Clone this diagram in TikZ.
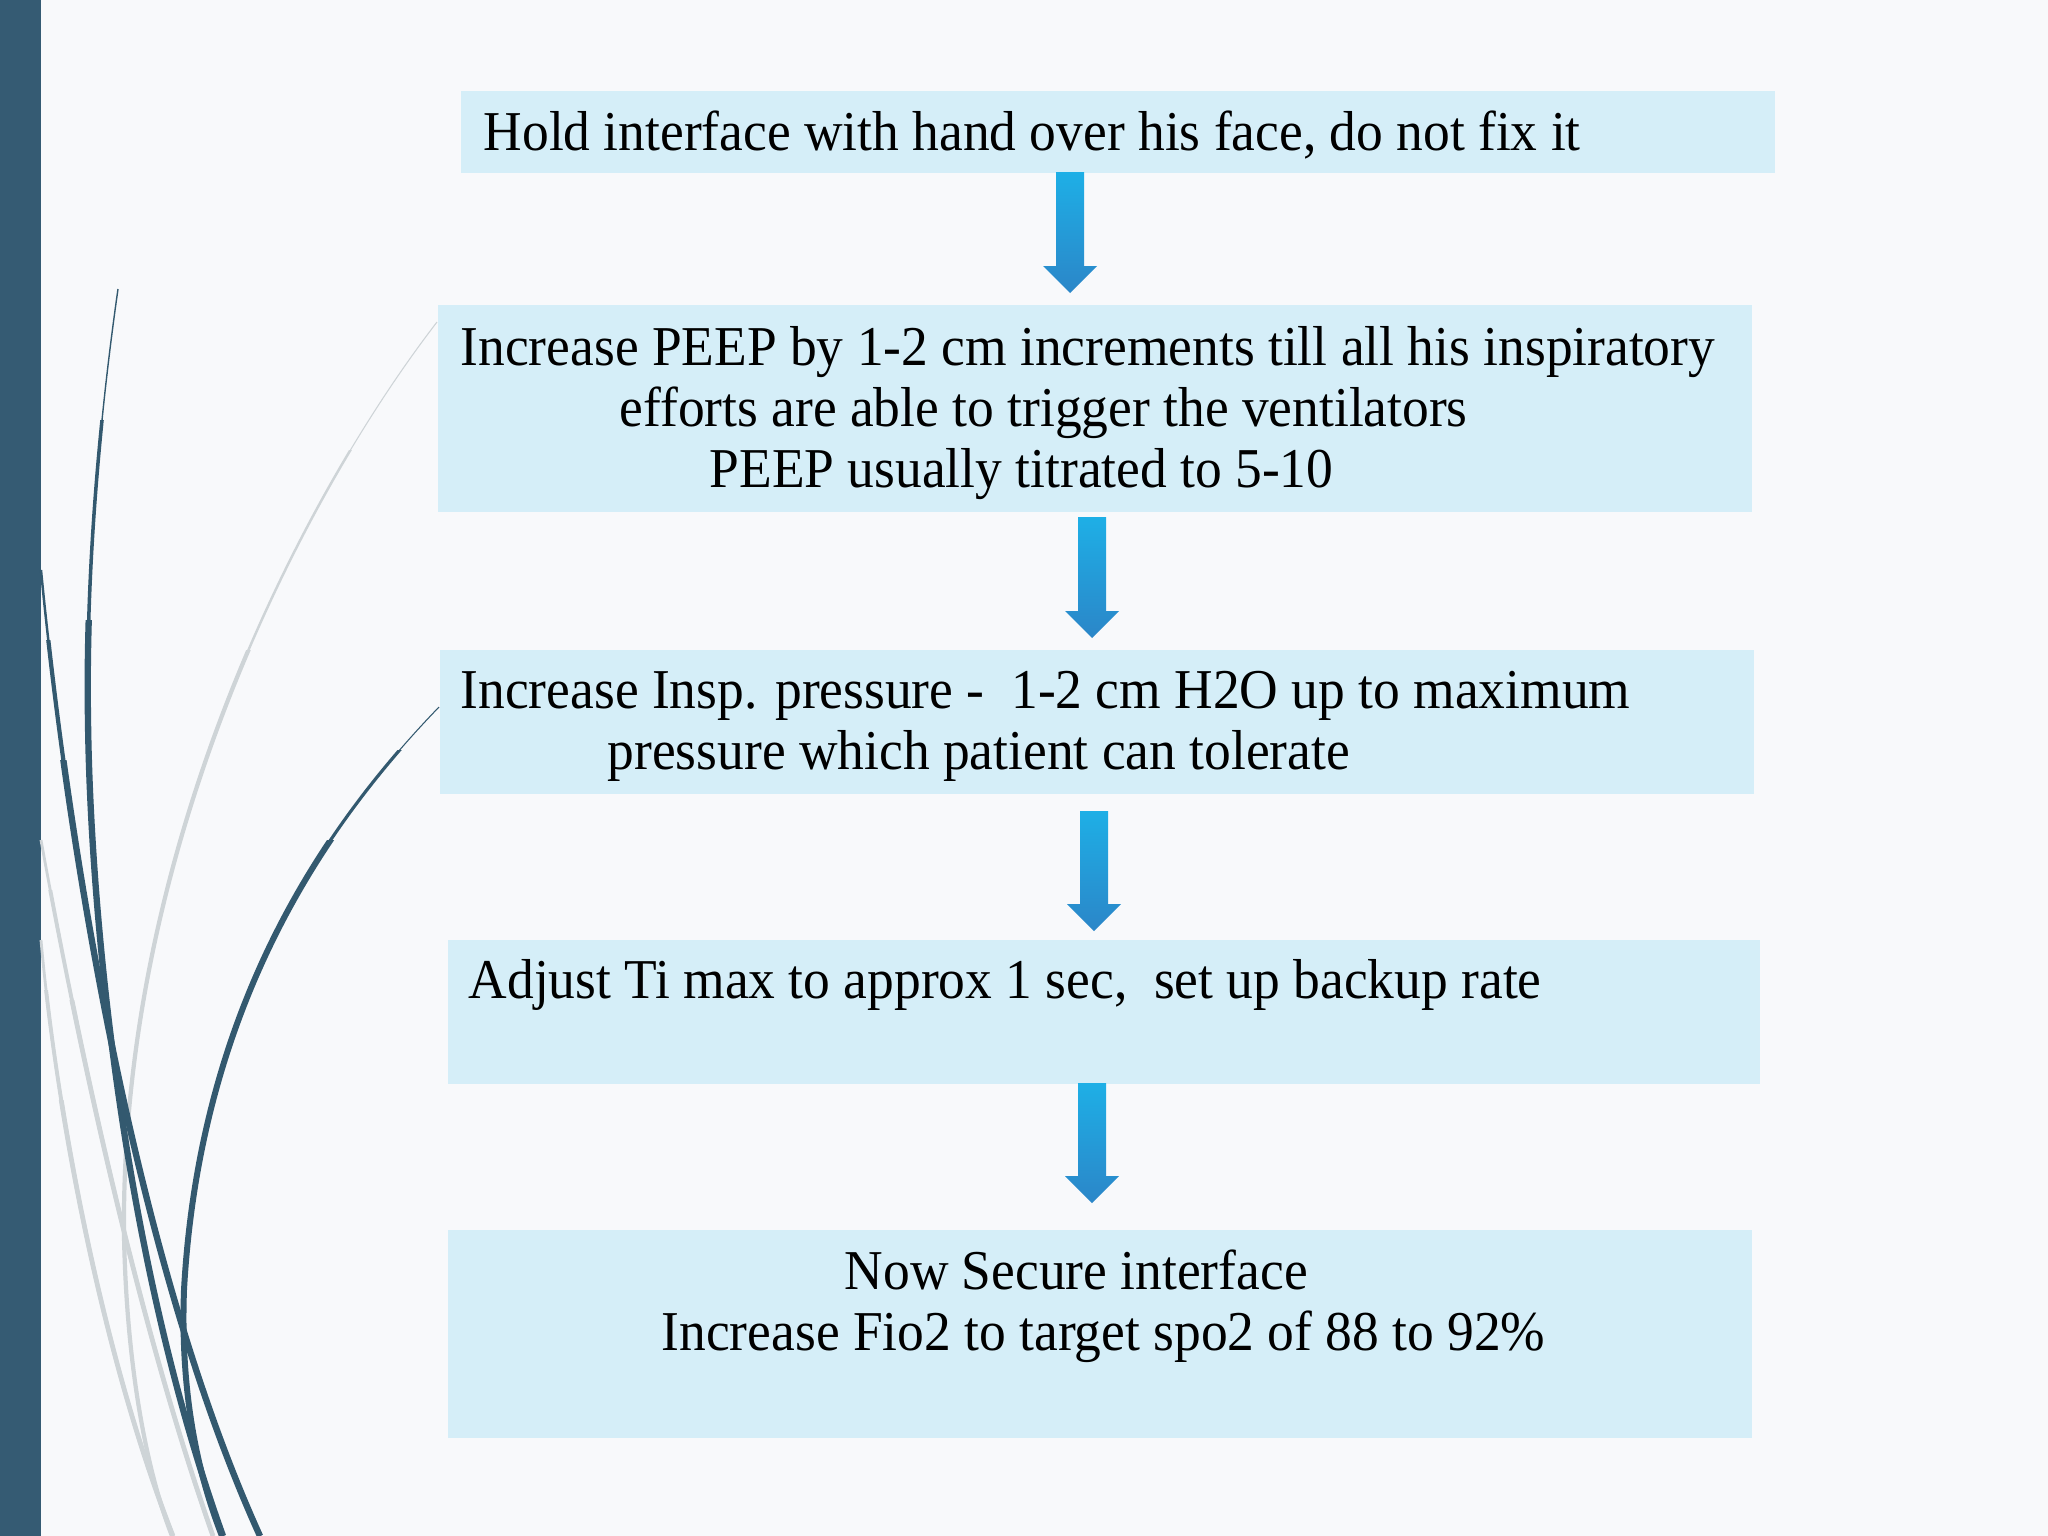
\documentclass[tikz,border=0pt]{standalone}
\usepackage{fontspec}
\setmainfont{Liberation Serif}[FakeStretch=0.95]
\definecolor{bg}{HTML}{F8F9FB}
\definecolor{barcol}{HTML}{355B73}
\definecolor{curvedark}{HTML}{33596F}
\definecolor{curvegray}{HTML}{CED4D7}
\definecolor{boxfill}{HTML}{D5EEF8}
\definecolor{arrtop}{HTML}{1EAFE6}
\definecolor{arrbot}{HTML}{2B86C8}
\newcommand\flowarr[4]{%
  \shade[flowarrow] (#1-14,#2) -- (#1+14,#2) -- (#1+14,#3) -- (#1+27,#3) -- (#1,#4) -- (#1-27,#3) -- (#1-14,#3) -- cycle;}
% tapered curve: style, path, w1, y1, w2, y2, w3
\newcommand\tapercurve[7]{%
  \draw[#1, line width=#3] #2;
  \begin{scope}\clip (0,#4) rectangle (2048,1540);
    \draw[#1, line width=#5] #2;\end{scope}
  \begin{scope}\clip (0,#6) rectangle (2048,1540);
    \draw[#1, line width=#7] #2;\end{scope}}
\begin{document}
\begin{tikzpicture}[x=0.01cm,y=-0.01cm,
  stepbox/.style={fill=boxfill, draw=none, inner sep=0pt, anchor=north west},
  txt/.style={anchor=base west, inner sep=0pt, font=\fontsize{16}{19}\selectfont, text=black},
  darkcurve/.style={draw=curvedark},
  graycurve/.style={draw=curvegray},
  flowarrow/.style={top color=arrtop, bottom color=arrbot, draw=none}]
\useasboundingbox (0,0) rectangle (2048,1536);
\fill[bg] (0,0) rectangle (2048,1536);
\fill[barcol] (0,0) rectangle (41,1536);
% decorative curves
\tapercurve{graycurve}{(41,940) .. controls (55,1100) and (100,1350) .. (173,1536)}{0.8pt}{990}{1.1pt}{1100}{1.35pt}
\tapercurve{graycurve}{(41,840) .. controls (70,1000) and (130,1300) .. (213,1536)}{0.8pt}{890}{1.1pt}{1000}{1.35pt}
\tapercurve{graycurve}{(437,322) .. controls (300,500) and (120,850) .. (124,1236) .. controls (127,1380) and (150,1480) .. (172,1536)}{0.3pt}{450}{0.7pt}{650}{1.2pt}
\tapercurve{darkcurve}{(118,289) .. controls (95,450) and (86,600) .. (88,720) .. controls (90,900) and (120,1250) .. (223,1536)}{0.4pt}{420}{1.0pt}{620}{1.8pt}
\tapercurve{darkcurve}{(41,570) .. controls (65,820) and (130,1250) .. (260,1536)}{0.7pt}{640}{1.2pt}{760}{1.8pt}
\tapercurve{darkcurve}{(439,707) .. controls (330,820) and (200,1000) .. (184,1290) .. controls (180,1400) and (200,1480) .. (222,1536)}{0.3pt}{750}{0.9pt}{840}{1.7pt}
% boxes
\node[stepbox, minimum width=13.14cm, minimum height=0.82cm] (b1) at (460,90) {};
\node[stepbox, minimum width=13.14cm, minimum height=2.07cm] (b2) at (437,304) {};
\node[stepbox, minimum width=13.14cm, minimum height=1.44cm] (b3) at (439,649) {};
\node[stepbox, minimum width=13.12cm, minimum height=1.44cm] (b4) at (447,939) {};
\node[stepbox, minimum width=13.04cm, minimum height=2.08cm] (b5) at (447,1229) {};
% texts
\node[txt] (t1) at (483,150) {Hold interface with hand over his face, do not fix it};
\node[txt] (t2a) at (460,365) {Increase PEEP by 1-2 cm increments till all his inspiratory};
\node[txt] (t2b) at (619,426) {efforts are able to trigger the ventilators};
\node[txt] (t2c) at (709,487) {PEEP usually titrated to 5-10};
\node[txt] (t3a) at (460,708) {Increase Insp. pressure -\ \ 1-2 cm H2O up to maximum};
\node[txt] (t3b) at (607,769) {pressure which patient can tolerate};
\node[txt] (t4) at (468,998) {Adjust Ti max to approx 1 sec,\ \ set up backup rate};
\node[txt] (t5a) at (844,1289) {Now Secure interface};
\node[txt] (t5b) at (661,1350) {Increase Fio2 to target spo2 of 88 to 92\%};
% arrows
\flowarr{1070}{172}{266}{293}
\flowarr{1092}{517}{611}{638}
\flowarr{1094}{811}{904}{931}
\flowarr{1092}{1083}{1176}{1203}
\end{tikzpicture}
\end{document}
